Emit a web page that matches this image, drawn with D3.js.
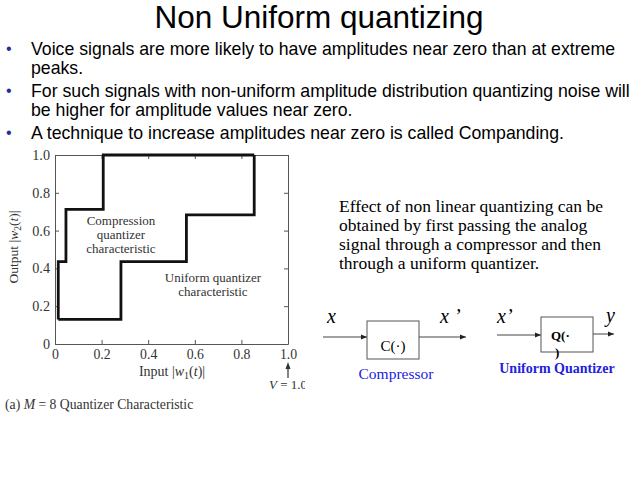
<!DOCTYPE html>
<html>
<head>
<meta charset="utf-8">
<script src="https://cdn.jsdelivr.net/npm/d3@7"></script>
<style>
  body { margin: 0; background: #fff; }
  svg { display: block; }
</style>
</head>
<body>
<svg id="slide" width="638" height="478"></svg>
<script>
// slide text
var title = "Non Uniform quantizing";
var bullets = [
  ["Voice signals are more likely to have amplitudes near zero than at extreme", "peaks."],
  ["For such signals with non-uniform amplitude distribution quantizing noise will", "be higher for amplitude values near zero."],
  ["A technique to increase amplitudes near zero is called Companding."]
];
var note = ["Effect of non linear quantizing can be",
  "obtained by first passing the analog",
  "signal through a compressor and then",
  "through a uniform quantizer."];

// quantizer characteristic
var ticks = [0, 0.2, 0.4, 0.6, 0.8, 1.0];
var compX = [0.014, 0.047, 0.207, 0.855];
var compY = [0.13, 0.436, 0.712, 1.0];
var unifX = [0.014, 0.283, 0.564, 0.855];
var unifY = [0.13, 0.436, 0.683, 1.0];

var svg = d3.select("#slide");

// title
svg.append("text")
  .attr("x", 319).attr("y", 28)
  .attr("text-anchor", "middle")
  .style("font-family", "Liberation Sans, Arial")
  .style("font-size", "31.5px")
  .text(title);

// bullets
var lineY = 55;
bullets.forEach(function (b) {
  svg.append("text")
    .attr("x", 6).attr("y", lineY - 1)
    .style("font-family", "Liberation Sans, Arial")
    .style("font-size", "16px")
    .style("fill", "#1f2e9c")
    .text("\u2022");
  b.forEach(function (l) {
    svg.append("text")
      .attr("x", 31).attr("y", lineY)
      .style("font-family", "Liberation Sans, Arial")
      .style("font-size", "17.7px")
      .text(l);
    lineY += 19;
  });
  lineY += 4;
});

// chart
var x = d3.scaleLinear().domain([0, 1]).range([55, 288]);
var y = d3.scaleLinear().domain([0, 1]).range([344, 155]);
var grey = "#555";
var serif = "Liberation Serif, Times New Roman";
var fmt = function (d) { return d === 0 ? "0" : d3.format(".1f")(d); };

svg.append("clipPath").attr("id", "imgclip")
  .append("rect").attr("x", 0).attr("y", 146).attr("width", 305).attr("height", 270);
var g = svg.append("g").attr("clip-path", "url(#imgclip)");

g.append("g").attr("transform", "translate(0," + y(0) + ")")
  .call(d3.axisBottom(x).tickValues(ticks).tickSizeInner(-4).tickSizeOuter(0).tickPadding(5).tickFormat(fmt))
  .call(function (a) {
    a.select(".domain").attr("stroke", grey);
    a.selectAll("line").attr("stroke", grey);
    a.selectAll("text").style("font-family", serif).style("font-size", "13.8px").attr("fill", "#333");
  });
g.append("g").attr("transform", "translate(" + x(0) + ",0)")
  .call(d3.axisLeft(y).tickValues(ticks).tickSizeInner(-4).tickSizeOuter(0).tickPadding(5).tickFormat(fmt))
  .call(function (a) {
    a.select(".domain").attr("stroke", grey);
    a.selectAll("line").attr("stroke", grey);
    a.selectAll("text").style("font-family", serif).style("font-size", "14.2px").attr("fill", "#333");
  });
g.append("g").attr("transform", "translate(0," + y(1) + ")")
  .call(d3.axisTop(x).tickValues(ticks).tickSizeInner(-4).tickSizeOuter(0).tickFormat(""))
  .call(function (a) {
    a.select(".domain").attr("stroke", grey);
    a.selectAll("line").attr("stroke", grey);
  });
g.append("g").attr("transform", "translate(" + x(1) + ",0)")
  .call(d3.axisRight(y).tickValues(ticks).tickSizeInner(-4).tickSizeOuter(0).tickFormat(""))
  .call(function (a) {
    a.select(".domain").attr("stroke", grey);
    a.selectAll("line").attr("stroke", grey);
  });

var compLine = d3.line().x(function (d, i) { return x(compX[i]); }).y(function (d) { return y(d); })
  .curve(d3.curveStepBefore);
var unifLine = d3.line().x(function (d, i) { return x(unifX[i]); }).y(function (d) { return y(d); })
  .curve(d3.curveStepAfter);

g.append("path").attr("d", compLine(compY))
  .attr("fill", "none").attr("stroke", "#111").attr("stroke-width", 2.8);
g.append("path").attr("d", unifLine(unifY))
  .attr("fill", "none").attr("stroke", "#111").attr("stroke-width", 2.8);

function label(lines, cx, cy) {
  lines.forEach(function (l, i) {
    g.append("text")
      .attr("x", x(cx)).attr("y", y(cy) + i * 14)
      .attr("text-anchor", "middle")
      .style("font-family", serif).style("font-size", "13px").attr("fill", "#333")
      .text(l);
  });
}
label(["Compression", "quantizer", "characteristic"], 0.283, 0.63);
label(["Uniform quantizer", "characteristic"], 0.678, 0.33);

var xl = g.append("text").attr("x", 172).attr("y", 376).attr("text-anchor", "middle")
  .style("font-family", serif).style("font-size", "14px").attr("fill", "#333");
xl.append("tspan").text("Input |");
xl.append("tspan").style("font-style", "italic").text("w");
xl.append("tspan").attr("dy", 3).style("font-size", "10px").text("1");
xl.append("tspan").attr("dy", -3).text("(");
xl.append("tspan").style("font-style", "italic").text("t");
xl.append("tspan").text(")|");

var yl = g.append("text").attr("transform", "translate(18,247) rotate(-90)").attr("text-anchor", "middle")
  .style("font-family", serif).style("font-size", "13.5px").attr("fill", "#333");
yl.append("tspan").text("Output |");
yl.append("tspan").style("font-style", "italic").text("w");
yl.append("tspan").attr("dy", 3).style("font-size", "9.5px").text("2");
yl.append("tspan").attr("dy", -3).text("(");
yl.append("tspan").style("font-style", "italic").text("t");
yl.append("tspan").text(")|");

// V = 1.0 marker
g.append("line").attr("x1", x(1)).attr("x2", x(1)).attr("y1", 378).attr("y2", 366)
  .attr("stroke", "#333").attr("stroke-width", 1.2);
g.append("path").attr("d", "M" + (x(1) - 2.5) + ",369 L" + x(1) + ",362 L" + (x(1) + 2.5) + ",369 Z").attr("fill", "#333");
var vl = g.append("text").attr("x", 269).attr("y", 389)
  .style("font-family", serif).style("font-size", "13px").attr("fill", "#333");
vl.append("tspan").style("font-style", "italic").text("V");
vl.append("tspan").text(" = 1.0");

var cap = g.append("text").attr("x", 5).attr("y", 409)
  .style("font-family", serif).style("font-size", "13.7px").attr("fill", "#333");
cap.append("tspan").text("(a) ");
cap.append("tspan").style("font-style", "italic").text("M");
cap.append("tspan").text(" = 8 Quantizer Characteristic");

// note text
note.forEach(function (l, i) {
  svg.append("text").attr("x", 339).attr("y", 212 + i * 19)
    .style("font-family", serif).style("font-size", "17.5px")
    .text(l);
});

// block diagram
svg.append("defs").append("marker").attr("id", "ah")
  .attr("viewBox", "0 0 10 10").attr("refX", 10).attr("refY", 5)
  .attr("markerWidth", 6).attr("markerHeight", 6).attr("orient", "auto")
  .append("path").attr("d", "M0,1 L10,5 L0,9 Z").attr("fill", "#222");

function arrow(x1, x2, yy) {
  svg.append("line").attr("x1", x1).attr("x2", x2).attr("y1", yy).attr("y2", yy)
    .attr("stroke", "#444").attr("stroke-width", 1).attr("marker-end", "url(#ah)");
}
function box(x0, y0, w, h) {
  svg.append("rect").attr("x", x0).attr("y", y0).attr("width", w).attr("height", h)
    .attr("fill", "#fff").attr("stroke", "#555").attr("stroke-width", 1);
}
function itext(t, xx, yy) {
  svg.append("text").attr("x", xx).attr("y", yy)
    .style("font-family", serif).style("font-size", "20px").style("font-style", "italic")
    .text(t);
}

arrow(323, 367, 337);
box(367, 321, 52, 38);
arrow(419, 466, 337);
itext("x", 327, 323);
itext("x \u2019", 440, 323);
svg.append("text").attr("x", 393).attr("y", 351).attr("text-anchor", "middle")
  .style("font-family", serif).style("font-size", "15px").text("C(\u00b7)");
svg.append("text").attr("x", 396).attr("y", 379).attr("text-anchor", "middle")
  .style("font-family", serif).style("font-size", "15.5px").attr("fill", "#2222dd").text("Compressor");

arrow(497, 541, 335);
box(541, 317, 52, 35);
arrow(593, 614, 334);
itext("x\u2019", 497, 323);
itext("y", 606, 322);
svg.append("text").attr("x", 551).attr("y", 340)
  .style("font-family", serif).style("font-size", "13px").style("font-weight", "bold").text("Q(\u00b7");
svg.append("text").attr("x", 555).attr("y", 357)
  .style("font-family", serif).style("font-size", "13px").style("font-weight", "bold").text(")");
svg.append("text").attr("x", 557).attr("y", 373).attr("text-anchor", "middle")
  .style("font-family", serif).style("font-size", "14px").style("font-weight", "bold").attr("fill", "#2222dd")
  .text("Uniform Quantizer");
</script>
</body>
</html>
